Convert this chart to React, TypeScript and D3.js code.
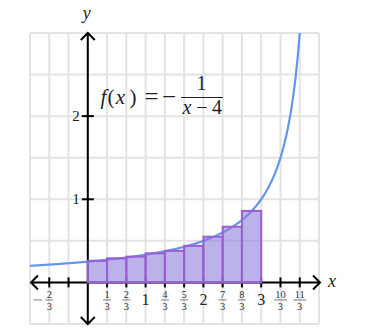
import React from "react";
import * as d3 from "d3";

const W = 391;
const H = 333;
const xDomain = [-1, 4];
const yDomain = [-0.5, 3];
const xGrid = d3.range(-3, 13).map((k) => k / 3); // every 1/3
const yGrid = [-0.5, 0, 0.5, 1, 1.5, 2, 2.5, 3];
const xTickValues = [-2 / 3, -1 / 3, 1 / 3, 2 / 3, 1, 4 / 3, 5 / 3, 2, 7 / 3, 8 / 3, 3, 10 / 3, 11 / 3];
const xTickLabels = ["-2/3", "", "1/3", "2/3", "1", "4/3", "5/3", "2", "7/3", "8/3", "3", "10/3", "11/3"];
const yTickValues = [1, 2];
const yTickLabels = ["1", "2"];
const rectStarts = [0, 1 / 3, 2 / 3, 1, 4 / 3, 5 / 3, 2, 7 / 3, 8 / 3];
const rectWidth = 1 / 3;
const rectHeights = [0.26, 0.29, 0.31, 0.35, 0.38, 0.44, 0.55, 0.67, 0.86];
const fn = (x: number) => -1 / (x - 4);

const FONT = "Liberation Serif";

function Frac({ x, y, label }: { x: number; y: number; label: string }) {
  const neg = label.startsWith("-");
  const [n, d] = label.replace("-", "").split("/");
  const w = Math.max(n.length, d.length) * 5 + 3;
  return (
    <g fontFamily={FONT} fontSize={10.5} fill="#333" textAnchor="middle">
      {neg && (
        <line x1={x - w / 2 - 12} x2={x - w / 2 - 3} y1={y} y2={y} stroke="#777" strokeWidth={0.9} />
      )}
      <text x={x} y={y - 2}>{n}</text>
      <line x1={x - w / 2} x2={x + w / 2} y1={y} y2={y} stroke="#444" strokeWidth={0.7} />
      <text x={x} y={y + 10.5}>{d}</text>
    </g>
  );
}

export default function App() {
  const x = d3.scaleLinear().domain(xDomain).range([30, 319]);
  const y = d3.scaleLinear().domain(yDomain).range([324, 33]);
  const x0 = x(0);
  const y0 = y(0);
  const samples = d3.range(-1, 3.7, 0.01);
  const line = d3
    .line<number>()
    .x((d) => x(d))
    .y((d) => y(fn(d)))
    .curve(d3.curveLinear);

  const arrow = (tx: number, ty: number, dir: "l" | "r" | "u" | "d") => {
    const a = 7;
    let p = "";
    if (dir === "r") p = `M${tx - a},${ty - a} L${tx},${ty} L${tx - a},${ty + a}`;
    if (dir === "l") p = `M${tx + a},${ty - a} L${tx},${ty} L${tx + a},${ty + a}`;
    if (dir === "u") p = `M${tx - a},${ty + a} L${tx},${ty} L${tx + a},${ty + a}`;
    if (dir === "d") p = `M${tx - a},${ty - a} L${tx},${ty} L${tx + a},${ty - a}`;
    return <path d={p} fill="none" stroke="#000" strokeWidth={2} />;
  };

  return (
    <svg width={W} height={H} style={{ position: "absolute", left: 0, top: 0 }}>
      <defs>
        <clipPath id="plot">
          <rect x={30} y={33} width={289} height={291} />
        </clipPath>
      </defs>
      <rect width={W} height={H} fill="#fff" />
      {/* grid */}
      <g stroke="#e3e3e3" strokeWidth={2}>
        {xGrid.map((v, i) => (
          <line key={"gx" + i} x1={x(v)} x2={x(v)} y1={y(yDomain[0])} y2={y(yDomain[1])} />
        ))}
        {yGrid.map((v, i) => (
          <line key={"gy" + i} x1={x(xDomain[0])} x2={x(xDomain[1])} y1={y(v)} y2={y(v)} />
        ))}
      </g>
      {/* axes */}
      <g stroke="#000" strokeWidth={2}>
        <line x1={x(xDomain[0]) + 1} x2={x(xDomain[1]) + 1} y1={y0} y2={y0} />
        <line x1={x0} x2={x0} y1={y(yDomain[1])} y2={y(yDomain[0])} />
        {xTickValues.map((v, i) => (
          <line key={"xt" + i} x1={x(v)} x2={x(v)} y1={y0 - 5} y2={y0 + 5} />
        ))}
        {yTickValues.map((v, i) => (
          <line key={"yt" + i} x1={x0 - 6} x2={x0 + 6} y1={y(v)} y2={y(v)} />
        ))}
      </g>
      {arrow(x(xDomain[1]) + 1, y0, "r")}
      {arrow(x(xDomain[0]) + 1, y0, "l")}
      {arrow(x0, y(yDomain[1]), "u")}
      {arrow(x0, y(yDomain[0]), "d")}
      {/* curve */}
      <path d={line(samples) || ""} fill="none" stroke="#6495ed" strokeWidth={2.2} clipPath="url(#plot)" />
      {/* rectangles */}
      <g>
        {rectStarts.map((s, i) => (
          <rect
            key={"r" + i}
            x={x(s)}
            y={y(rectHeights[i])}
            width={x(s + rectWidth) - x(s)}
            height={y0 - y(rectHeights[i])}
            fill="#8e7fdb"
            fillOpacity={0.6}
            stroke="#9b5dd3"
            strokeWidth={2}
          />
        ))}
      </g>
      {/* x tick labels */}
      {xTickValues.map((v, i) => {
        const lab = xTickLabels[i];
        if (!lab) return null;
        if (lab.includes("/")) return <Frac key={"xl" + i} x={x(v)} y={y0 + 17.5} label={lab} />;
        return (
          <text key={"xl" + i} x={x(v)} y={y0 + 23} textAnchor="middle" fontFamily={FONT} fontSize={16} fill="#222">
            {lab}
          </text>
        );
      })}
      {/* y tick labels */}
      {yTickValues.map((v, i) => (
        <text key={"yl" + i} x={x0 - 8} y={y(v) + 5} textAnchor="end" fontFamily={FONT} fontSize={15} fill="#222">
          {yTickLabels[i]}
        </text>
      ))}
      {/* axis labels */}
      <text x={x0 - 1} y={19} textAnchor="middle" fontFamily={FONT} fontStyle="italic" fontSize={18} fill="#222">y</text>
      <text x={328} y={y0 + 5} fontFamily={FONT} fontStyle="italic" fontSize={18} fill="#222">x</text>
      {/* formula */}
      <g fontFamily={FONT} fontSize={21} fill="#222">
        <text x={103.5} y={104} textAnchor="middle" fontStyle="italic">f</text>
        <text x={111} y={104} textAnchor="middle">(</text>
        <text x={120.5} y={104} textAnchor="middle" fontStyle="italic">x</text>
        <text x={133} y={104} textAnchor="middle">)</text>
        <text x={151.5} y={104.5} textAnchor="middle" fontSize={25}>=</text>
        <text x={169} y={104.5} textAnchor="middle" fontSize={25}>−</text>
        <line x1={181} x2={223} y1={97.5} y2={97.5} stroke="#222" strokeWidth={1} />
        <text x={201.5} y={90} textAnchor="middle" fontSize={20}>1</text>
        <text x={187} y={113.5} textAnchor="middle" fontStyle="italic" fontSize={20}>x</text>
        <text x={202} y={113.5} textAnchor="middle" fontSize={20}>−</text>
        <text x={217} y={113.5} textAnchor="middle" fontSize={20}>4</text>
      </g>
    </svg>
  );
}
